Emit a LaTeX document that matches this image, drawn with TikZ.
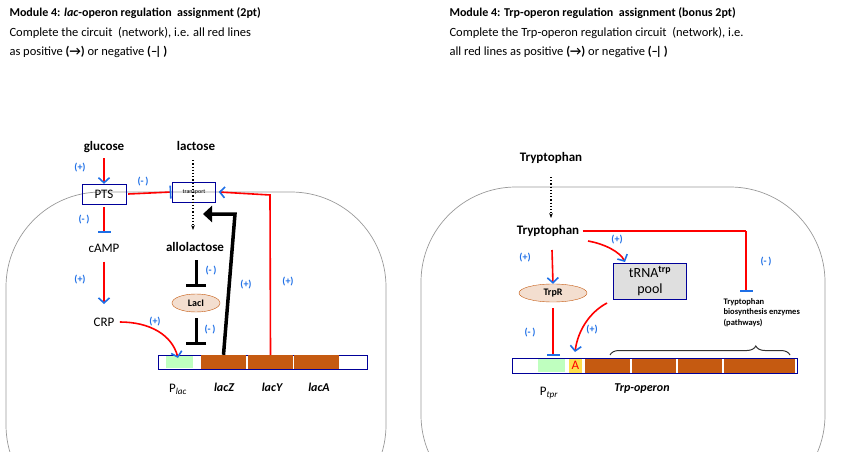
\documentclass[tikz,border=0pt]{standalone}
\usepackage{fontspec}
\setmainfont{Carlito}
\usetikzlibrary{arrows.meta,decorations.pathreplacing,shapes.geometric}
\definecolor{bl}{HTML}{1E6FE6}
\definecolor{br}{HTML}{C55A11}
\begin{document}
\begin{tikzpicture}[x=1pt,y=-1pt,
  redl/.style={red,line width=1.6pt},
  posar/.style={redl,-{Straight Barb[color=bl,length=5pt,width=11pt,line width=1.6pt]}},
  negar/.style={redl,-{Bar[color=bl,width=13pt,line width=1.6pt]}},
  bneg/.style={black,line width=3pt,-{Bar[width=20pt,line width=3pt]}},
  lab/.style={text=bl,font=\bfseries\fontsize{10}{10}\selectfont},
  txt/.style={font=\fontsize{13}{14}\selectfont},
  btxt/.style={font=\bfseries\fontsize{13}{14}\selectfont},
  gene/.style={fill=br,draw=none},
  cell/.style={draw=gray!80,line width=0.7pt,rounded corners=95pt}]
\useasboundingbox (0,0) rectangle (841,452);
\begin{scope}
\clip (0,0) rectangle (841,452);
\draw[cell] (6,192) rectangle (386,520);
\draw[cell] (421,187) rectangle (825,510);
\end{scope}
% headers
\node[anchor=west,font=\bfseries\fontsize{12}{14}\selectfont] (h1) at (6,13) {Module 4: \textit{lac}-operon regulation\ \ assignment (2pt)};
\node[anchor=north west,align=left,font=\fontsize{12.5}{19}\selectfont] (h1b) at (6,24) {Complete the circuit\ \ (network), i.e. all red lines\\as positive \textbf{(\textrightarrow)} or negative \textbf{(\raisebox{0.5pt}{--}\kern-2pt\textbar\,)}};
\node[anchor=west,font=\bfseries\fontsize{12}{14}\selectfont] (h2) at (446,13) {Module 4: Trp-operon regulation\ \ assignment (bonus 2pt)};
\node[anchor=north west,align=left,font=\fontsize{12.5}{19}\selectfont] (h2b) at (446,24) {Complete the Trp-operon regulation circuit\ \ (network), i.e.\\all red lines as positive \textbf{(\textrightarrow)} or negative \textbf{(\raisebox{0.5pt}{--}\kern-2pt\textbar\,)}};
% ---------- lac
\node[btxt] (glu) at (104,147) {glucose};
\node[btxt] (lac) at (196,146) {lactose};
\node[draw=blue!60!black,minimum width=44pt,minimum height=20pt,inner sep=0,txt] (pts) at (104,194) {PTS};
\node[draw=blue!60!black,minimum width=43pt,minimum height=20pt,inner sep=0,font=\fontsize{6}{7}\selectfont] (tr) at (194,192) {transport};
\node[btxt] (allo) at (195,247) {allolactose};
\node[draw=br,fill=br!20,ellipse,minimum width=48pt,minimum height=18pt,inner sep=0,font=\bfseries\fontsize{10}{10}\selectfont] (laci) at (196,303) {LacI};
\node[txt] (camp) at (104,248) {cAMP};
\node[txt] (crp) at (104,322) {CRP};
\draw[blue!60!black,line width=0.8pt] (158,355) rectangle (367,369);
\fill[green!25] (166,356) rectangle (193,368);
\node[gene,minimum width=45pt,minimum height=14pt,inner sep=0] (lz) at (223.5,362) {};
\node[gene,minimum width=45pt,minimum height=14pt,inner sep=0] (ly) at (270.5,362) {};
\node[gene,minimum width=45pt,minimum height=14pt,inner sep=0] (la) at (316.5,362) {};
\coordinate (pl) at (178,358);
\node[txt] (plt) at (178,389) {P\textsubscript{\textit{lac}}};
\node[btxt,font=\bfseries\itshape\fontsize{12}{14}\selectfont] at (224,387) {lacZ};
\node[btxt,font=\bfseries\itshape\fontsize{12}{14}\selectfont] at (272,387) {lacY};
\node[btxt,font=\bfseries\itshape\fontsize{12}{14}\selectfont] at (319,387) {lacA};
\draw[posar] (glu.south) ++(0,2) -- (pts.north);
\node[lab] at (80,168) {(+)};
\draw[negar] (pts.east) ++(2,0) -- ([xshift=-1pt]tr.west);
\node[lab] at (143,182) {(-\,)};
\draw[posar] (ly.north) -- (270,195) -- ([xshift=3pt]tr.east);
\draw[black,line width=3.5pt,-{Triangle[length=9pt,width=16pt]}] (lz.north) -- (235,214) -- (203,214);
\node[lab] at (246,285) {(+)};
\node[lab] at (288,282) {(+)};
\draw[dotted,line width=1.2pt,-{Stealth[length=5pt]}] (lac.south) ++(-3,6) -- (193,230);
\draw[bneg] (196,260) -- (196,287);
\draw[bneg] (196,318) -- (196,345);
\node[lab] at (211,271) {(-\,)};
\node[lab] at (210,330) {(-\,)};
\draw[negar] (pts.south) ++(0,3) -- (104,233);
\node[lab] at (84,220) {(-\,)};
\draw[posar] (camp.south) ++(0,6) -- (104,304);
\node[lab] at (80,280) {(+)};
\draw[posar] (crp.east) ++(2,0) .. controls (150,322) and (172,335) .. (pl);
\node[lab] at (155,322) {(+)};
% ---------- trp
\node[btxt] (t1) at (551,158) {Tryptophan};
\node[btxt] (t2) at (548,231) {Tryptophan};
\draw[dotted,line width=1.2pt,-{Stealth[length=5pt]}] (551,177) -- (551,218);
\node[draw=br,fill=br!20,ellipse,minimum width=68pt,minimum height=18pt,inner sep=0,font=\bfseries\fontsize{10}{10}\selectfont] (trpr) at (553,293) {TrpR};
\node[draw=blue!60!black,fill=gray!25,minimum width=73pt,minimum height=36pt,inner sep=0,align=center,font=\fontsize{14}{16}\selectfont] (trna) at (650,281) {tRNA\textsuperscript{\textbf{trp}}\\pool};
\node[anchor=north west,align=left,font=\bfseries\fontsize{8.5}{10.5}\selectfont] (enz) at (720,295) {Tryptophan\\biosynthesis enzymes\\(pathways)};
\draw[redl] (t2.east) -- (746,231);
\draw[negar] (746,231) -- (746,292);
\node[lab] at (766,262) {(-\,)};
\draw[posar] (552,250) -- (trpr.north);
\node[lab] at (525,258) {(+)};
\draw[blue!60!black,line width=0.8pt] (512,358) rectangle (797,373);
\fill[green!25] (538,359) rectangle (565,372);
\node[fill=yellow!70!orange!70,minimum width=13pt,minimum height=14pt,inner sep=0,text=red,font=\fontsize{13}{13}\selectfont] (A) at (575.5,365.5) {A};
\node[gene,minimum width=45pt,minimum height=14pt,inner sep=0] at (607.5,365.5) {};
\node[gene,minimum width=44pt,minimum height=14pt,inner sep=0] at (654,365.5) {};
\node[gene,minimum width=44pt,minimum height=14pt,inner sep=0] at (700,365.5) {};
\node[gene,minimum width=71pt,minimum height=14pt,inner sep=0] at (759.5,365.5) {};
\draw[negar] (trpr.south) ++(0,6) -- (553,356);
\node[lab] at (530,333) {(-\,)};
\draw[posar] (588,241) .. controls (605,244) and (620,252) .. (625,262);
\node[lab] at (617,240) {(+)};
\draw[posar] (607,303) .. controls (590,312) and (578,330) .. (575,352);
\node[lab] at (592,330) {(+)};
\draw[decorate,decoration={brace,amplitude=9pt,aspect=0.81},line width=1pt,black!80] (610,355) -- (790,355);
\node[txt] at (549,393) {P\textsubscript{\textit{tpr}}};
\node[font=\bfseries\itshape\fontsize{12}{14}\selectfont] at (642,389) {Trp-operon};
\end{tikzpicture}
\end{document}
